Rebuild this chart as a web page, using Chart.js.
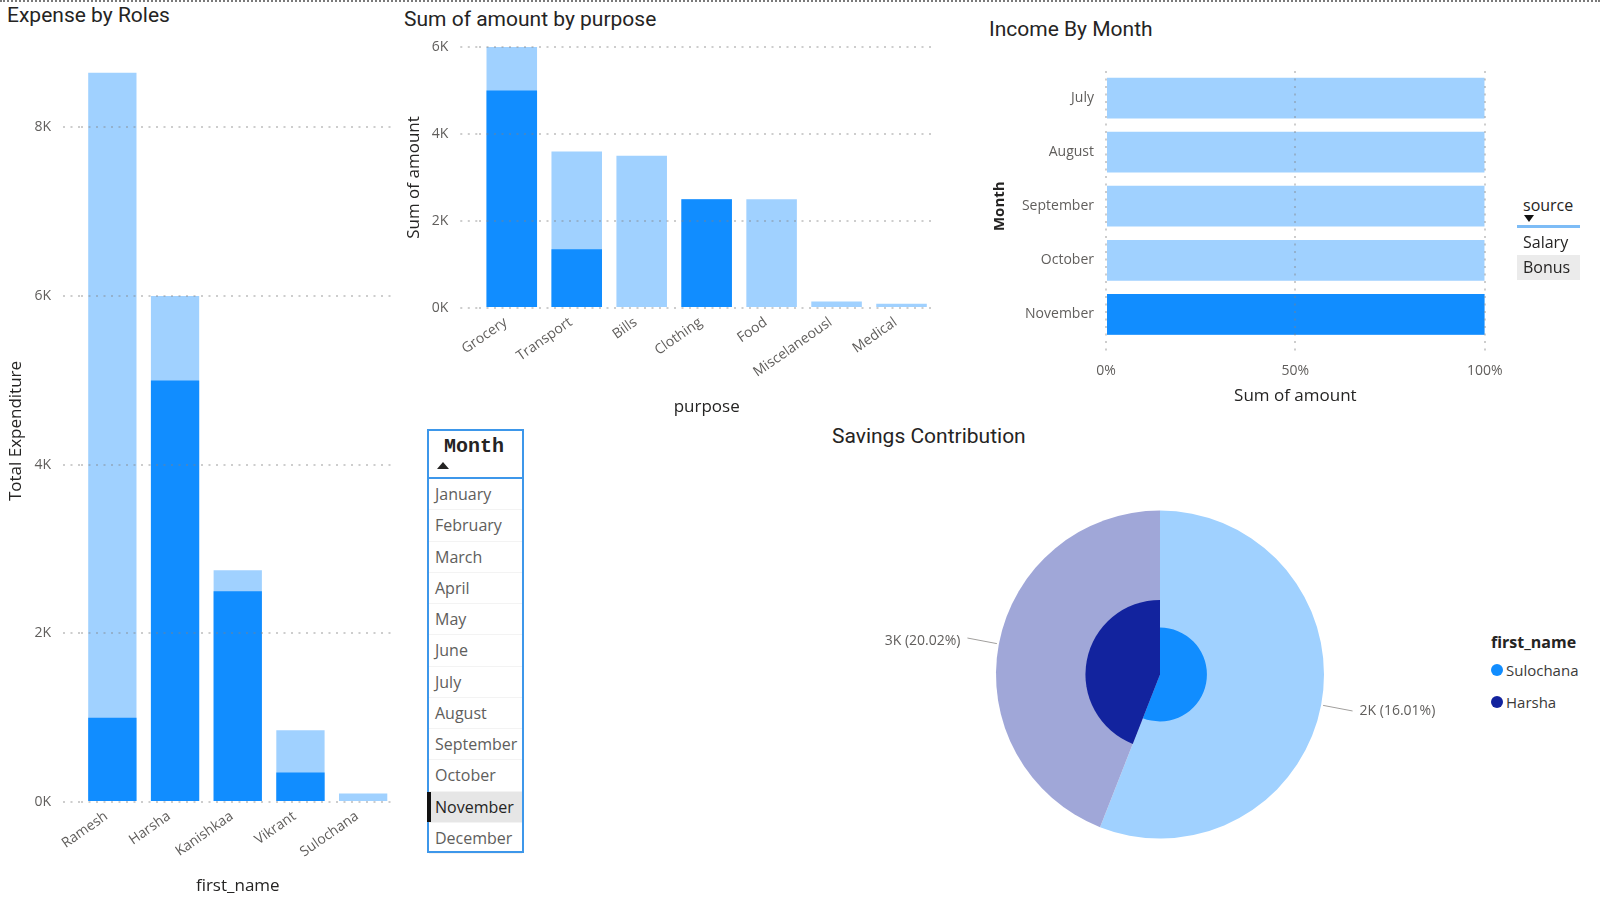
<!DOCTYPE html>
<html>
<head>
<meta charset="utf-8">
<title>Budget dashboard</title>
<script src="https://cdn.jsdelivr.net/npm/chart.js@4.4.1/dist/chart.umd.min.js"></script>
<style>
  html, body { margin: 0; padding: 0; background: #fff; }
  body { width: 1600px; height: 902px; position: relative; overflow: hidden; font-family: "Open Sans", sans-serif; }
  canvas { position: absolute; }
  .topline { position: absolute; left: 0; top: 0; width: 1600px; border-top: 2px dotted #7a7a7a; }
  .title { position: absolute; font-family: Roboto, sans-serif; font-size: 21px; line-height: 24px; color: #252423; white-space: nowrap; }

  /* month slicer */
  #monthSlicer { position: absolute; left: 427px; top: 429px; width: 97px; height: 424px; box-sizing: border-box; border: 2px solid #3d97ea; }
  #monthSlicer .head { position: relative; height: 46px; border-bottom: 2px solid #3d97ea; }
  #monthSlicer .head span { position: absolute; left: 15px; top: 5px; font: bold 20px/22px "Liberation Mono", monospace; color: #252423; }
  #monthSlicer .caret { position: absolute; left: 8px; top: 31px; width: 0; height: 0; border-left: 6px solid transparent; border-right: 6px solid transparent; border-bottom: 7px solid #252423; }
  #monthSlicer .item { position: relative; height: 31.26px; line-height: 31px; padding-left: 6px; font-size: 16px; color: #605E5C; box-sizing: border-box; border-bottom: 1px solid #f3f3f3; }
  #monthSlicer .item.on { background: #e6e6e6; color: #252423; }
  #monthSlicer .item.on::before { content: ""; position: absolute; left: -2px; top: 0; width: 4px; height: 100%; background: #111; }

  /* source slicer */
  #sourceSlicer { position: absolute; left: 1517px; top: 192px; width: 63px; }
  #sourceSlicer .name { position: absolute; left: 6px; top: 2px; font-size: 16px; line-height: 22px; color: #252423; }
  #sourceSlicer .caret { position: absolute; left: 7px; top: 23px; width: 0; height: 0; border-left: 5px solid transparent; border-right: 5px solid transparent; border-top: 7px solid #111; }
  #sourceSlicer .line { position: absolute; left: 0; top: 33px; width: 63px; height: 3px; background: #7dbcf6; }
  #sourceSlicer .opt { position: absolute; left: 0; width: 63px; height: 25px; line-height: 25px; padding-left: 6px; box-sizing: border-box; font-size: 16px; color: #252423; }
  #sourceSlicer .opt.hover { background: #ebebeb; }

  /* pie legend */
  #saverLegend { position: absolute; left: 1491px; top: 630px; }
  #saverLegend .head { font-weight: bold; font-size: 16px; line-height: 24px; color: #252423; }
  #saverLegend .row { position: relative; height: 32px; line-height: 32px; padding-left: 15px; font-size: 15px; color: #3b3a39; }
  #saverLegend .dot { position: absolute; left: 0; top: 10px; width: 12px; height: 12px; border-radius: 50%; }
</style>
</head>
<body>
<div class="topline"></div>

<div class="title" style="left:7px; top:3px;">Expense by Roles</div>
<div class="title" style="left:404px; top:7px;">Sum of amount by purpose</div>
<div class="title" style="left:989px; top:17px;">Income By Month</div>
<div class="title" style="left:832px; top:424px;">Savings Contribution</div>

<canvas id="roles" width="400" height="842" style="left:0; top:60px;"></canvas>
<canvas id="purpose" width="545" height="380" style="left:395px; top:40px;"></canvas>
<canvas id="income" width="560" height="380" style="left:960px; top:40px;"></canvas>
<canvas id="savingsBase" width="660" height="409" style="left:830px; top:470px;"></canvas>
<canvas id="savingsSel0" width="660" height="409" style="left:830px; top:470px;"></canvas>
<canvas id="savingsSel1" width="660" height="409" style="left:830px; top:470px;"></canvas>

<div id="monthSlicer">
  <div class="head"><span>Month</span><div class="caret"></div></div>
  <div id="monthItems"></div>
</div>

<div id="sourceSlicer"></div>
<div id="saverLegend"></div>

<script>
// expense by person (Power BI highlight: selected part over the full total)
const roleNames = ['Ramesh', 'Harsha', 'Kanishkaa', 'Vikrant', 'Sulochana'];
const roleTotal = [8650, 6000, 2750, 850, 100];
const roleSelected = [1000, 5000, 2500, 350, 0];
const roleTicks = [0, 2000, 4000, 6000, 8000];

// spending by purpose
const purposes = ['Grocery', 'Transport', 'Bills', 'Clothing', 'Food', 'Miscelaneousl', 'Medical'];
const purposeTotal = [6000, 3600, 3500, 2500, 2500, 150, 100];
const purposeSelected = [5000, 1350, 0, 2500, 0, 0, 0];
const purposeTicks = [0, 2000, 4000, 6000];

// income share per month (100% stacked)
const incomeMonths = ['July', 'August', 'September', 'October', 'November'];
const incomeShare = [100, 100, 100, 100, 100];
const incomeSelected = [0, 0, 0, 0, 100];
const incomeTicks = [0, 50, 100];

// savings
const savers = ['Sulochana', 'Harsha'];
const savingsTotal = [6988, 5500];
const savingsSelected = [1999, 2500];

// slicers
const slicerMonths = ['January', 'February', 'March', 'April', 'May', 'June', 'July',
  'August', 'September', 'October', 'November', 'December'];
const pickedMonth = 'November';
const sources = ['Salary', 'Bonus'];

const BLUE = '#118DFF', BLUE_FADED = '#A0D1FF';
const NAVY = '#12239E', NAVY_FADED = '#A0A7D8';
const saverColors = [BLUE, NAVY];
const saverFaded = [BLUE_FADED, NAVY_FADED];

Chart.defaults.font.family = '"Open Sans", sans-serif';
Chart.defaults.color = '#605E5C';

const fmtK = v => Math.round(v / 1000) + 'K';
const DOT = 'rgba(130,130,130,0.4)';
// dotted grid drawn over the bars; the tick marks carry the dots a bit past the plot edge
const dottedGrid = len => ({ color: DOT, lineWidth: 2, z: 1, drawTicks: true, tickLength: len, tickColor: DOT, tickBorderDash: [2, 5.5] });
const noGrid = { display: false, drawTicks: false };
const noBorder = { display: false, dash: [2, 5.5] };

function axisTitle(text, padding, size, weight) {
  return { display: true, text, color: '#252423', font: { size: size || 17, weight: weight || 'normal' }, padding };
}
// fixed scale sizes so the plot area lands where the original has it
const fixWidth = w => scale => { scale.width = w; scale.paddingTop = 0; scale.paddingBottom = 0; };
const fixHeight = h => scale => { scale.height = h; scale.paddingLeft = 0; scale.paddingRight = 0; };
const useTicks = list => scale => { scale.ticks = list.map(value => ({ value })); };

function baseOptions(extra) {
  return Object.assign({
    responsive: false,
    animation: false,
    events: [],
    plugins: { legend: { display: false }, tooltip: { enabled: false } }
  }, extra);
}

function barData(labels, selected, total, pct) {
  return {
    labels,
    datasets: [
      { label: 'Selected', data: selected, backgroundColor: BLUE, grouped: false, barPercentage: pct, categoryPercentage: 1 },
      { label: 'Total', data: total, backgroundColor: BLUE_FADED, grouped: false, barPercentage: pct, categoryPercentage: 1 }
    ]
  };
}

// Expense by Roles
new Chart(document.getElementById('roles'), {
  type: 'bar',
  data: barData(roleNames, roleSelected, roleTotal, 0.77),
  options: baseOptions({
    layout: { padding: { right: 5.5 } },
    scales: {
      x: {
        grid: noGrid, border: { display: false },
        ticks: { autoSkip: false, maxRotation: 35, minRotation: 35, padding: 6, labelOffset: -6, font: { size: 14 } },
        title: axisTitle('first_name', { top: 0, bottom: 6 }),
        afterFit: fixHeight(100)
      },
      y: {
        min: 0, max: 8800, grid: dottedGrid(18), border: noBorder,
        afterBuildTicks: useTicks(roleTicks),
        ticks: { padding: 12, callback: fmtK, font: { size: 14 } },
        title: axisTitle('Total Expenditure', { top: 6, bottom: 0 }),
        afterFit: fixWidth(81)
      }
    }
  })
});

// Sum of amount by purpose
new Chart(document.getElementById('purpose'), {
  type: 'bar',
  data: barData(purposes, purposeSelected, purposeTotal, 0.778),
  options: baseOptions({
    layout: { padding: { top: 7, right: 6 } },
    scales: {
      x: {
        grid: noGrid, border: { display: false },
        ticks: { autoSkip: false, maxRotation: 35, minRotation: 35, padding: 6, labelOffset: -6, font: { size: 14 } },
        title: axisTitle('purpose', { top: 0, bottom: 3 }),
        afterFit: fixHeight(112)
      },
      y: {
        min: 0, max: 6000, grid: dottedGrid(19), border: noBorder,
        afterBuildTicks: useTicks(purposeTicks),
        ticks: { padding: 12, callback: fmtK, font: { size: 14 } },
        title: axisTitle('Sum of amount', { top: 9, bottom: 0 }),
        afterFit: fixWidth(84.3)
      }
    }
  })
});

// Income By Month
new Chart(document.getElementById('income'), {
  type: 'bar',
  data: barData(incomeMonths, incomeSelected, incomeShare, 0.754),
  options: baseOptions({
    indexAxis: 'y',
    layout: { padding: { top: 31, right: 35.3 } },
    scales: {
      x: {
        min: 0, max: 100, grid: dottedGrid(9), border: noBorder,
        afterBuildTicks: useTicks(incomeTicks),
        ticks: { padding: 12.6, callback: v => v + '%', font: { size: 14 } },
        title: axisTitle('Sum of amount', { top: 0, bottom: 14 }),
        afterFit: fixHeight(78.6)
      },
      y: {
        grid: noGrid, border: { display: false },
        ticks: { padding: 12, font: { size: 14 } },
        title: axisTitle('Month', { top: 31, bottom: 0 }, 15, 'bold'),
        afterFit: fixWidth(146)
      }
    }
  })
});

// Savings Contribution: faded totals, with each selected share drawn as a smaller-radius slice
const pieRadius = 164;
const savingsSum = savingsTotal.reduce((a, b) => a + b, 0);

const pieLabels = {
  id: 'pieLabels',
  afterDatasetsDraw(chart) {
    const ctx = chart.ctx;
    ctx.save();
    ctx.font = '14px "Open Sans"';
    ctx.fillStyle = '#605E5C';
    ctx.strokeStyle = '#A19F9D';
    ctx.lineWidth = 1;
    ctx.textBaseline = 'middle';
    chart.getDatasetMeta(0).data.forEach((arc, i) => {
      const p = arc.getProps(['x', 'y', 'startAngle', 'endAngle', 'outerRadius'], true);
      const mid = (p.startAngle + p.endAngle) / 2;
      const c = Math.cos(mid), s = Math.sin(mid);
      const x0 = p.x + c * (p.outerRadius + 2), y0 = p.y + s * (p.outerRadius + 2);
      const x1 = p.x + c * (p.outerRadius + 32), y1 = p.y + s * (p.outerRadius + 32);
      ctx.beginPath();
      ctx.moveTo(x0, y0);
      ctx.lineTo(x1, y1);
      ctx.stroke();
      const right = c >= 0;
      ctx.textAlign = right ? 'left' : 'right';
      const v = savingsSelected[i];
      ctx.fillText(fmtK(v) + ' (' + (100 * v / savingsSum).toFixed(2) + '%)', x1 + (right ? 7 : -7), y1 + (right ? 0 : 3));
    });
    ctx.restore();
  }
};

new Chart(document.getElementById('savingsBase'), {
  type: 'pie',
  data: { labels: savers, datasets: [{ data: savingsTotal, backgroundColor: saverFaded, borderWidth: 0 }] },
  options: baseOptions({ radius: pieRadius }),
  plugins: [pieLabels]
});

savers.forEach((name, i) => {
  new Chart(document.getElementById('savingsSel' + i), {
    type: 'pie',
    data: {
      labels: savers,
      datasets: [{
        data: savingsTotal,
        backgroundColor: savers.map((_, j) => j === i ? saverColors[i] : 'rgba(0,0,0,0)'),
        borderWidth: 0
      }]
    },
    options: baseOptions({ radius: pieRadius * savingsSelected[i] / savingsTotal[i] })
  });
});

// legend for the pie
const legend = document.getElementById('saverLegend');
legend.innerHTML = '<div class="head">first_name</div>' + savers.map((n, i) =>
  '<div class="row"><span class="dot" style="background:' + saverColors[i] + '"></span>' + n + '</div>').join('');

// month slicer
document.getElementById('monthItems').innerHTML = slicerMonths.map(m =>
  '<div class="item' + (m === pickedMonth ? ' on' : '') + '">' + m + '</div>').join('');

// source slicer
document.getElementById('sourceSlicer').innerHTML =
  '<div class="name">source</div><div class="caret"></div><div class="line"></div>' +
  sources.map((s, i) => '<div class="opt' + (i === 1 ? ' hover' : '') + '" style="top:' + (38 + i * 25) + 'px">' + s + '</div>').join('');
</script>
</body>
</html>
